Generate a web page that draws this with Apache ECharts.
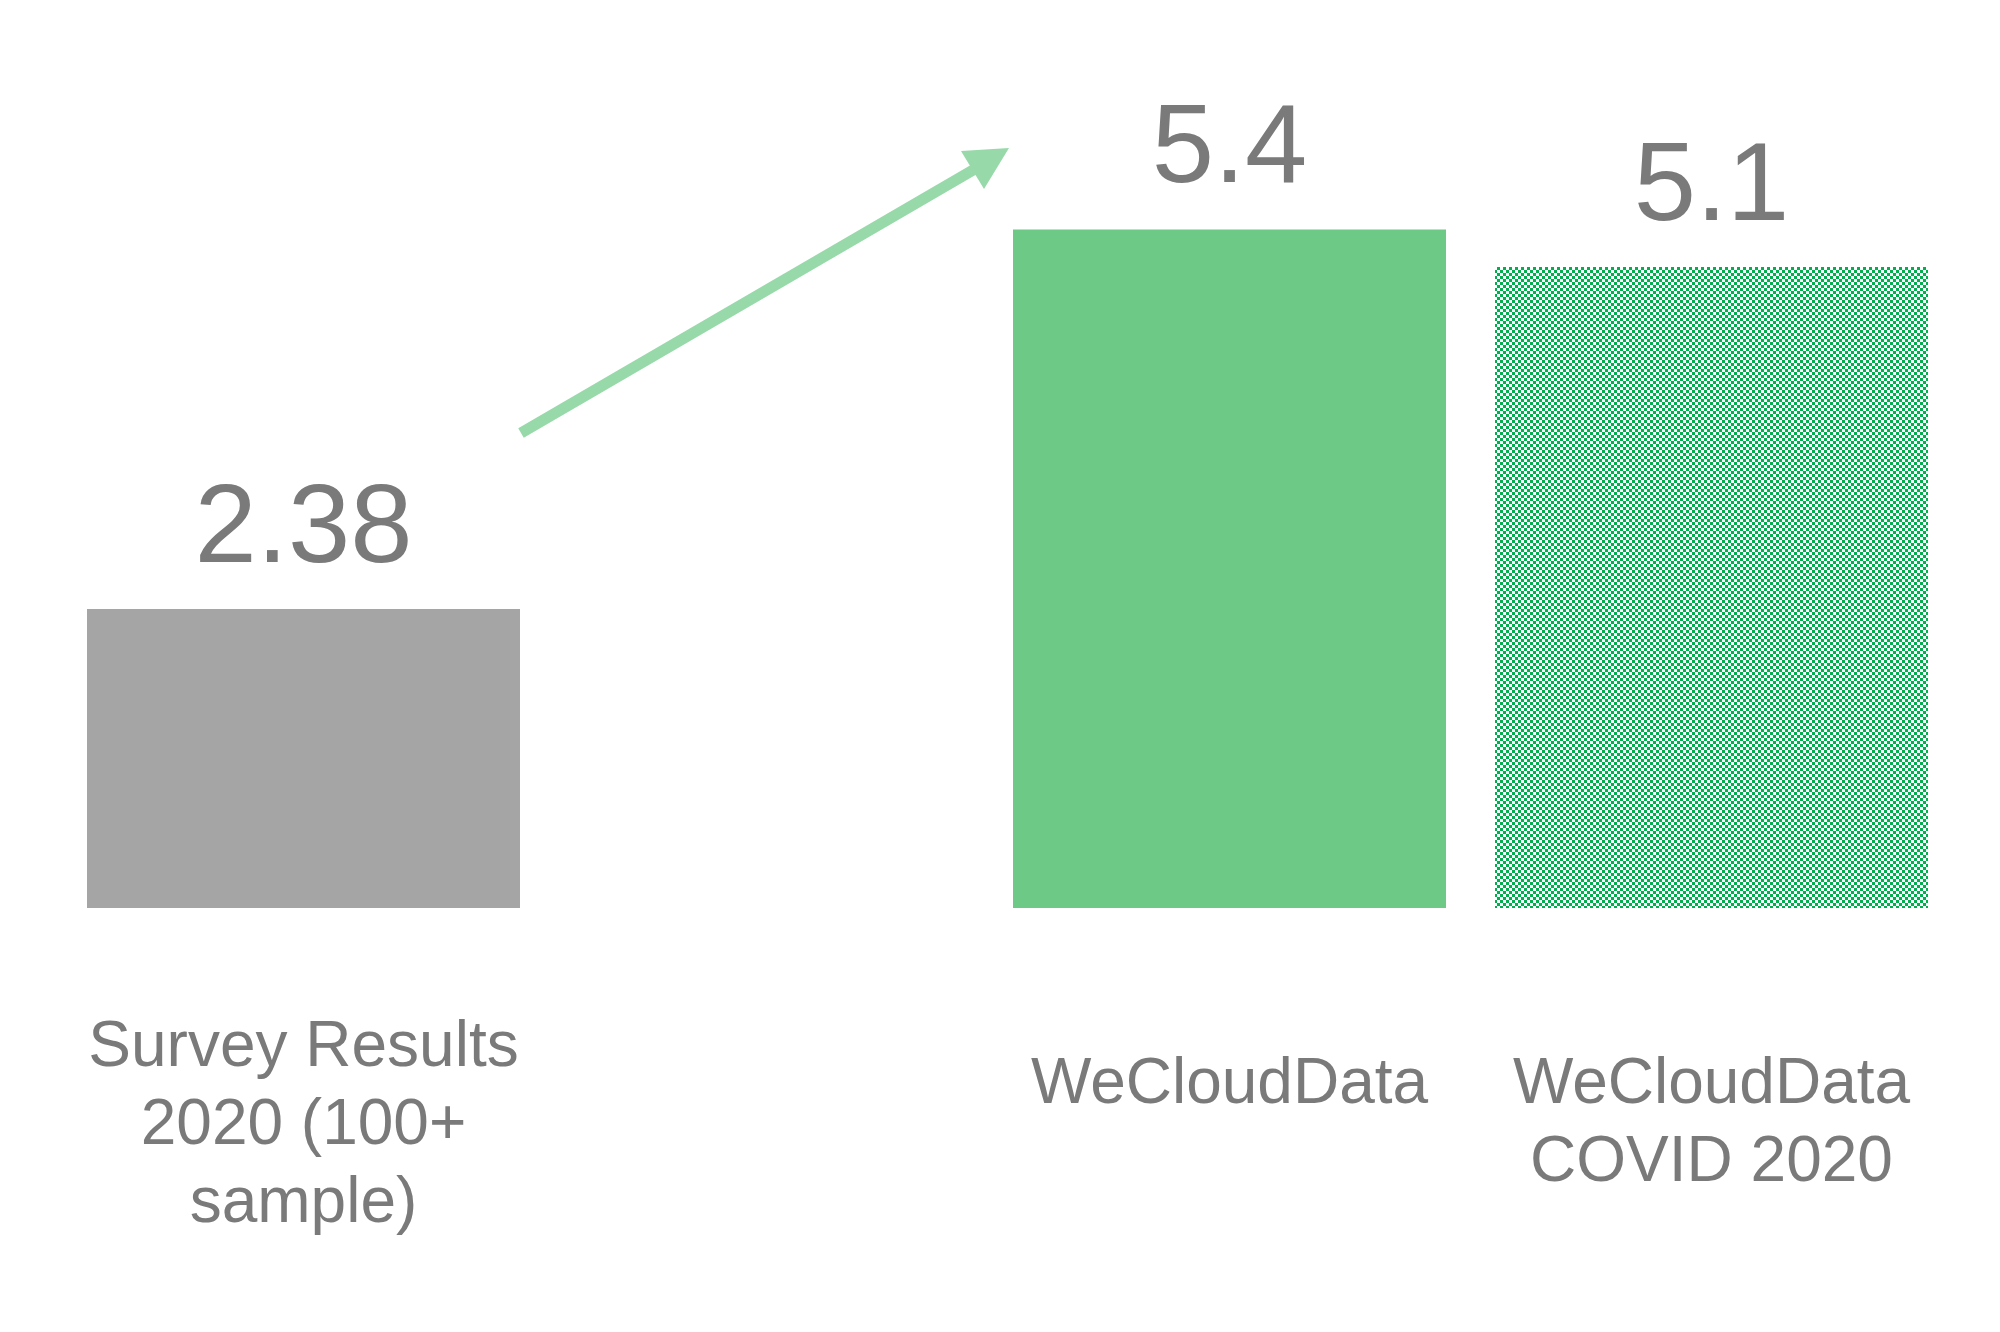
<!DOCTYPE html>
<html lang="en">

<head>
    <meta charset="UTF-8">
    <title>WeCloudData vs Survey Results</title>
    <style>
        body {
            margin: 0px;
            padding: 0px;
            background: #ffffff;
        }

        #main {
            width: 2000px;
            height: 1332px;
        }
    </style>
</head>

<body>
    <div id="main"></div>
    <script src="https://cdn.jsdelivr.net/npm/echarts@6/dist/echarts.min.js"></script>
    <script>
        // data
        var surveyCategories = ['Survey Results\n2020 (100+\nsample)'];
        var surveyValues = [2.38];
        var wcdCategories = ['WeCloudData', 'WeCloudData\nCOVID 2020'];
        var wcdValues = [5.4, 5.1];

        var textColor = '#7a7a7a';
        var font = '"Liberation Sans", Arial, Helvetica, sans-serif';

        // checkered fill for the COVID bar
        function checkerPattern() {
            var c = document.createElement('canvas');
            c.width = 6;
            c.height = 6;
            var ctx = c.getContext('2d');
            ctx.fillStyle = '#ffffff';
            ctx.fillRect(0, 0, 6, 6);
            ctx.fillStyle = '#00b04f';
            ctx.fillRect(0, 0, 3, 3);
            ctx.fillRect(3, 3, 3, 3);
            return { image: c, repeat: 'repeat' };
        }

        var barColors = ['#6dc986', checkerPattern()];

        var myChart = echarts.init(document.getElementById('main'));

        var valueLabel = {
            show: true,
            position: 'top',
            distance: 22,
            color: textColor,
            fontFamily: font,
            fontSize: 112
        };

        function catAxis(gridIndex, data, margin) {
            return {
                type: 'category',
                gridIndex: gridIndex,
                data: data,
                axisLine: { show: false },
                axisTick: { show: false },
                axisLabel: {
                    interval: 0,
                    margin: margin,
                    color: textColor,
                    fontFamily: font,
                    fontSize: 64,
                    lineHeight: 78
                }
            };
        }

        function valAxis(gridIndex) {
            return {
                type: 'value',
                gridIndex: gridIndex,
                min: 0,
                max: 6,
                show: false,
                splitLine: { show: false }
            };
        }

        var option = {
            animation: false,
            grid: [
                { left: 87, width: 433, top: 154, bottom: 424 },
                { left: 988.5, width: 964, top: 154, bottom: 424 }
            ],
            xAxis: [
                catAxis(0, surveyCategories, 101),
                catAxis(1, wcdCategories, 138)
            ],
            yAxis: [valAxis(0), valAxis(1)],
            graphic: [
                {
                    type: 'line',
                    shape: { x1: 521, y1: 433, x2: 980, y2: 166 },
                    style: { stroke: '#98d9aa', lineWidth: 11 }
                },
                {
                    type: 'polygon',
                    shape: { points: [[1009, 148], [961, 151], [984, 189]] },
                    style: { fill: '#98d9aa' }
                }
            ],
            series: [
                {
                    name: 'Survey',
                    type: 'bar',
                    xAxisIndex: 0,
                    yAxisIndex: 0,
                    barWidth: 433,
                    itemStyle: { color: '#a5a5a5' },
                    label: valueLabel,
                    data: surveyValues
                },
                {
                    name: 'WeCloudData',
                    type: 'bar',
                    xAxisIndex: 1,
                    yAxisIndex: 1,
                    barWidth: 433,
                    label: valueLabel,
                    data: wcdValues.map(function (v, i) {
                        return { value: v, itemStyle: { color: barColors[i] } };
                    })
                }
            ]
        };

        myChart.setOption(option);
    </script>
</body>

</html>
